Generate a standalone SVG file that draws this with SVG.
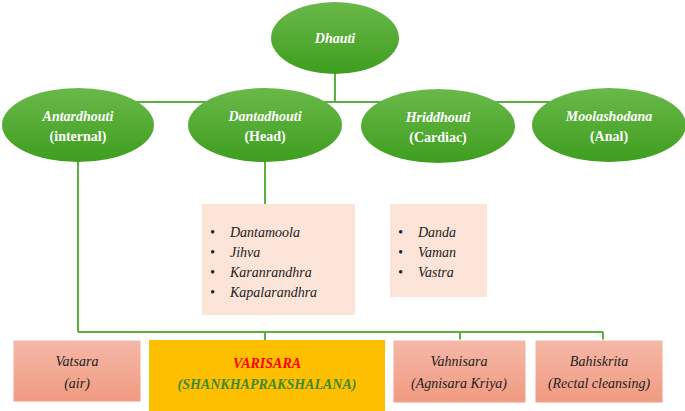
<svg xmlns="http://www.w3.org/2000/svg" width="685" height="411" viewBox="0 0 685 411">
<defs>
<linearGradient id="g" x1="0" y1="0" x2="0" y2="1"><stop offset="0" stop-color="#6ab94a"/><stop offset="1" stop-color="#3e9e1e"/></linearGradient>
<linearGradient id="p" x1="0" y1="0" x2="0" y2="1"><stop offset="0" stop-color="#f5b8a8"/><stop offset="1" stop-color="#f19a80"/></linearGradient>
</defs>
<style>
.e{fill:url(#g)}
.w{fill:#fff;font-family:"Liberation Serif",serif;font-size:14px;text-anchor:middle}
.b{fill:url(#p);stroke:#fff;stroke-width:1}
.t{font-family:"Liberation Serif",serif;font-size:14px;font-style:italic;fill:#222}
.c{text-anchor:middle}
.l{stroke:#5cb040;stroke-width:2;fill:none}
</style>
<rect width="685" height="411" fill="#fff"/>
<g id="connectors" class="l">
<path d="M335 74V102M78 102H608M78 102V90M265 102V90M438 102V90M608 102V90"/>
<path d="M78 160V332M265 160V204M78 332H603M265 332V340M460 332V340M603 332V340"/>
</g>
<g id="dhauti"><ellipse class="e" cx="335" cy="38" rx="64" ry="36"/><text class="w" x="335" y="43" font-style="italic" font-weight="bold">Dhauti</text></g>
<g id="antardhouti"><ellipse class="e" cx="78" cy="125" rx="76" ry="37"/><text class="w" x="78" y="121" font-style="italic" font-weight="bold">Antardhouti</text><text class="w" x="78" y="141" font-weight="bold">(internal)</text></g>
<g id="dantadhouti"><ellipse class="e" cx="265" cy="125" rx="77" ry="37"/><text class="w" x="265" y="121" font-style="italic" font-weight="bold">Dantadhouti</text><text class="w" x="265" y="141" font-weight="bold">(Head)</text></g>
<g id="hriddhouti"><ellipse class="e" cx="438" cy="126" rx="77" ry="37"/><text class="w" x="438" y="122" font-style="italic" font-weight="bold">Hriddhouti</text><text class="w" x="438" y="142" font-weight="bold">(Cardiac)</text></g>
<g id="moolashodana"><ellipse class="e" cx="609" cy="125" rx="77" ry="37"/><text class="w" x="609" y="121" font-style="italic" font-weight="bold">Moolashodana</text><text class="w" x="609" y="141" font-weight="bold">(Anal)</text></g>
<g id="dantalist"><rect x="202" y="204" width="153" height="111" fill="#fce4d8"/>
<g class="t"><text x="210" y="237">•</text><text x="230" y="237">Dantamoola</text><text x="210" y="257">•</text><text x="230" y="257">Jihva</text><text x="210" y="277">•</text><text x="230" y="277">Karanrandhra</text><text x="210" y="297">•</text><text x="230" y="297">Kapalarandhra</text></g></g>
<g id="hridlist"><rect x="390" y="204" width="97" height="93" fill="#fce4d8"/>
<g class="t"><text x="398" y="237">•</text><text x="418" y="237">Danda</text><text x="398" y="257">•</text><text x="418" y="257">Vaman</text><text x="398" y="277">•</text><text x="418" y="277">Vastra</text></g></g>
<g id="vatsara"><rect class="b" x="13" y="340" width="128" height="62"/><text class="t c" x="77" y="366">Vatsara</text><text class="t c" x="77" y="388">(air)</text></g>
<g id="varisara"><rect x="149" y="340" width="236" height="71" fill="#fdbf00"/><text class="t c" x="267" y="368" fill="#ff0000" font-weight="bold" style="fill:#ff0000">VARISARA</text><text class="t c" x="267" y="389" font-weight="bold" style="fill:#3d8b27">(SHANKHAPRAKSHALANA)</text></g>
<g id="vahnisara"><rect class="b" x="393" y="340" width="133" height="63"/><text class="t c" x="459" y="366">Vahnisara</text><text class="t c" x="459" y="388">(Agnisara Kriya)</text></g>
<g id="bahiskrita"><rect class="b" x="535" y="340" width="128" height="63"/><text class="t c" x="599" y="366">Bahiskrita</text><text class="t c" x="599" y="388">(Rectal cleansing)</text></g>
</svg>
